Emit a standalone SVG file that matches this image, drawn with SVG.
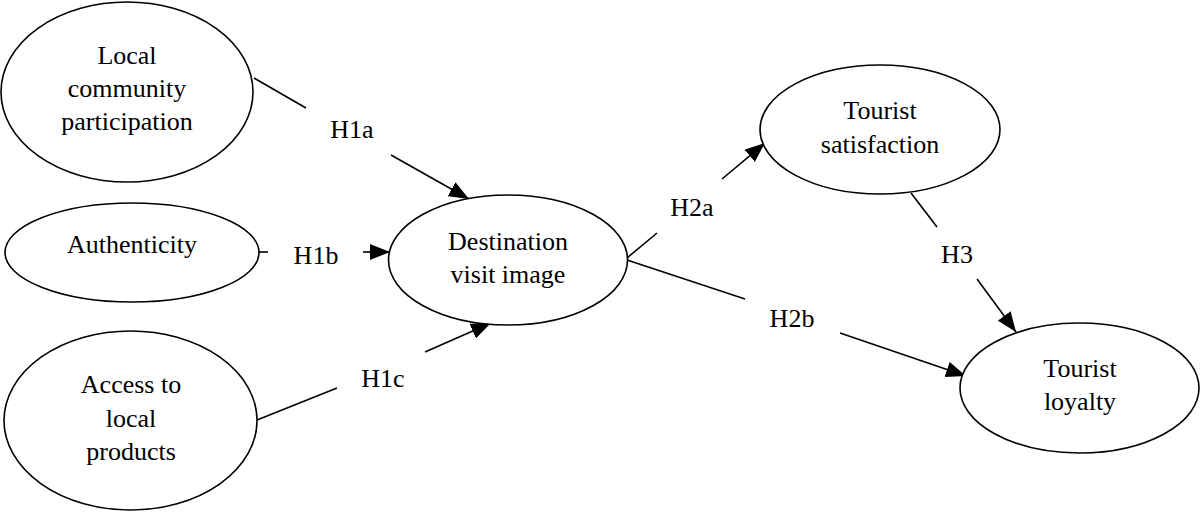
<svg xmlns="http://www.w3.org/2000/svg" width="1200" height="513" viewBox="0 0 1200 513">
<defs>
<style>
.n{fill:#fff;stroke:#000;stroke-width:1.6}
.t{font-size:26px;fill:#000;text-anchor:middle}
.c{stroke:#000;stroke-width:1.6;fill:none}
</style>
<marker id="ah" markerUnits="userSpaceOnUse" markerWidth="22" markerHeight="16" refX="20" refY="8" orient="auto">
<path d="M0,0 L20,8 L0,16 Z" fill="#000"/>
</marker>
</defs>
<rect width="1200" height="513" fill="#fff"/>
<g font-family="Liberation Serif, serif">
<g id="connectors">
<line class="c" x1="254" y1="78" x2="306" y2="108"/>
<line class="c" x1="391" y1="155" x2="469" y2="199" marker-end="url(#ah)"/>
<line class="c" x1="259" y1="252" x2="268" y2="252"/>
<line class="c" x1="363" y1="252" x2="390" y2="252" marker-end="url(#ah)"/>
<line class="c" x1="257" y1="420" x2="337" y2="388"/>
<line class="c" x1="425" y1="352" x2="491" y2="323" marker-end="url(#ah)"/>
<line class="c" x1="627" y1="258" x2="657" y2="233"/>
<line class="c" x1="722" y1="179" x2="765" y2="143" marker-end="url(#ah)"/>
<line class="c" x1="627" y1="260" x2="745" y2="299"/>
<line class="c" x1="840" y1="333" x2="966" y2="376" marker-end="url(#ah)"/>
<line class="c" x1="911" y1="193" x2="937" y2="227"/>
<line class="c" x1="977" y1="279" x2="1016" y2="332" marker-end="url(#ah)"/>
<text class="t" x="352" y="138">H1a</text>
<text class="t" x="316" y="264">H1b</text>
<text class="t" x="383" y="387">H1c</text>
<text class="t" x="692" y="216">H2a</text>
<text class="t" x="792" y="327">H2b</text>
<text class="t" x="957" y="263">H3</text>
</g>
<g id="local-community">
<ellipse class="n" cx="127" cy="92" rx="126" ry="90"/>
<text class="t" x="127" y="64">Local</text>
<text class="t" x="127" y="97">community</text>
<text class="t" x="127" y="130">participation</text>
</g>
<g id="authenticity">
<ellipse class="n" cx="132" cy="252.5" rx="127" ry="49.5"/>
<text class="t" x="132" y="253">Authenticity</text>
</g>
<g id="access">
<ellipse class="n" cx="130.5" cy="420.5" rx="126.5" ry="89.5"/>
<text class="t" x="131" y="393">Access to</text>
<text class="t" x="131" y="427">local</text>
<text class="t" x="131" y="460">products</text>
</g>
<g id="destination">
<ellipse class="n" cx="508" cy="260" rx="119.5" ry="65"/>
<text class="t" x="508" y="250">Destination</text>
<text class="t" x="508" y="283">visit image</text>
</g>
<g id="satisfaction">
<ellipse class="n" cx="880" cy="129.5" rx="120" ry="64.5"/>
<text class="t" x="880" y="119">Tourist</text>
<text class="t" x="880" y="153">satisfaction</text>
</g>
<g id="loyalty">
<ellipse class="n" cx="1079.5" cy="388" rx="119.5" ry="65"/>
<text class="t" x="1080" y="377">Tourist</text>
<text class="t" x="1080" y="410">loyalty</text>
</g>
</g>
</svg>
